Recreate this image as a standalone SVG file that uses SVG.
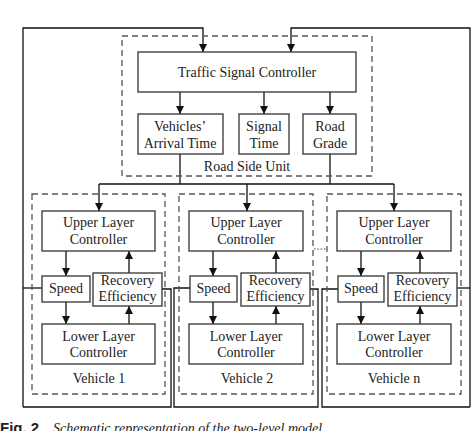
<svg xmlns="http://www.w3.org/2000/svg" width="474" height="431" viewBox="0 0 474 431" font-family="'Liberation Serif', 'Times New Roman', serif">
<defs>
<marker id="ah" viewBox="0 0 10 10" refX="10" refY="5" markerUnits="userSpaceOnUse" markerWidth="8" markerHeight="8" orient="auto">
<path d="M0,0 L10,5 L0,10 z" fill="#111"/>
</marker>
<style>
.box{fill:#fff;stroke:#333;stroke-width:1.3}
.dash{fill:none;stroke:#555;stroke-width:1.3;stroke-dasharray:6,4}
.ln{fill:none;stroke:#111;stroke-width:1.3}
.ar{fill:none;stroke:#111;stroke-width:1.3;marker-end:url(#ah)}
.t{font-family:'Liberation Serif','Times New Roman',serif;font-size:14px;fill:#222;text-anchor:middle}
.cap1{font-family:'Liberation Sans',Arial,sans-serif;font-weight:bold;font-size:15px;fill:#222}
.cap2{font-family:'Liberation Serif','Times New Roman',serif;font-style:italic;font-size:14px;fill:#222}
</style>
</defs>
<rect width="474" height="431" fill="#fff"/>

<g id="connectors">
<path class="ar" d="M23,407 V28 H203 V52"/>
<path class="ln" d="M42,288 H23"/>
<path class="ln" d="M162,289 H171 V407 H23"/>
<path class="ln" d="M190,288 H174 V407 H318 V289 H310"/>
<path class="ln" d="M338,289 H322 V407 H470"/>
<path class="ar" d="M470,407 V28 H291 V52"/>
<path class="ln" d="M457,288 H470"/>
<path class="ar" d="M180,92 V114"/>
<path class="ar" d="M264,92 V114"/>
<path class="ar" d="M330,92 V114"/>
<path class="ln" d="M180,154 V184"/>
<path class="ln" d="M330,154 V184"/>
<path class="ln" d="M99,184 H394"/>
<path class="ar" d="M99,184 V211"/>
<path class="ar" d="M247,184 V211"/>
<path class="ar" d="M394,184 V211"/>
<path class="ar" d="M66,251 V276"/>
<path class="ar" d="M66,302 V324"/>
<path class="ar" d="M129,324 V306"/>
<path class="ar" d="M129,273 V251"/>
<path class="ar" d="M213,251 V276"/>
<path class="ar" d="M213,302 V324"/>
<path class="ar" d="M276,324 V306"/>
<path class="ar" d="M276,273 V251"/>
<path class="ar" d="M361,251 V276"/>
<path class="ar" d="M361,302 V324"/>
<path class="ar" d="M420,324 V306"/>
<path class="ar" d="M420,273 V251"/>
<path d="M314,249 H327" fill="none" stroke="#444" stroke-width="1.2" stroke-dasharray="1.5,1.8"/>
</g>

<g id="rsu">
<rect class="dash" x="122" y="36" width="250" height="140"/>
<text class="t" x="247" y="171">Road Side Unit</text>
</g>
<g id="tsc">
<rect class="box" x="138" y="52" width="218" height="40"/>
<text class="t" x="247" y="77">Traffic Signal Controller</text>
</g>
<g id="arrival">
<rect class="box" x="138" y="114" width="85" height="40"/>
<text class="t" x="180" y="131">Vehicles’</text>
<text class="t" x="180" y="148">Arrival Time</text>
</g>
<g id="signal">
<rect class="box" x="239" y="114" width="50" height="40"/>
<text class="t" x="264" y="131">Signal</text>
<text class="t" x="264" y="148">Time</text>
</g>
<g id="grade">
<rect class="box" x="303" y="114" width="53" height="40"/>
<text class="t" x="330" y="131">Road</text>
<text class="t" x="330" y="148">Grade</text>
</g>

<g id="vehicle1">
<rect class="dash" x="32" y="194" width="133" height="200"/>
<text class="t" x="99" y="383">Vehicle 1</text>
</g>
<g id="upper1"><rect class="box" x="42" y="211" width="113" height="40"/><text class="t" x="98.5" y="227">Upper Layer</text><text class="t" x="98.5" y="244">Controller</text></g>
<g id="speed1"><rect class="box" x="42" y="276" width="48" height="26"/><text class="t" x="66" y="293">Speed</text></g>
<g id="recovery1"><rect class="box" x="93" y="273" width="69" height="33"/><text class="t" x="127.5" y="285">Recovery</text><text class="t" x="127.5" y="301">Efficiency</text></g>
<g id="lower1"><rect class="box" x="42" y="324" width="113" height="40"/><text class="t" x="98.5" y="341">Lower Layer</text><text class="t" x="98.5" y="357">Controller</text></g>

<g id="vehicle2">
<rect class="dash" x="179" y="194" width="134" height="200"/>
<text class="t" x="247" y="383">Vehicle 2</text>
</g>
<g id="upper2"><rect class="box" x="189" y="211" width="114" height="40"/><text class="t" x="246" y="227">Upper Layer</text><text class="t" x="246" y="244">Controller</text></g>
<g id="speed2"><rect class="box" x="190" y="276" width="47" height="26"/><text class="t" x="213.5" y="293">Speed</text></g>
<g id="recovery2"><rect class="box" x="241" y="273" width="69" height="33"/><text class="t" x="275.5" y="285">Recovery</text><text class="t" x="275.5" y="301">Efficiency</text></g>
<g id="lower2"><rect class="box" x="189" y="324" width="114" height="40"/><text class="t" x="246" y="341">Lower Layer</text><text class="t" x="246" y="357">Controller</text></g>

<g id="vehiclen">
<rect class="dash" x="327" y="194" width="134" height="200"/>
<text class="t" x="394" y="383">Vehicle n</text>
</g>
<g id="uppern"><rect class="box" x="337" y="211" width="114" height="40"/><text class="t" x="394" y="227">Upper Layer</text><text class="t" x="394" y="244">Controller</text></g>
<g id="speedn"><rect class="box" x="338" y="276" width="46" height="26"/><text class="t" x="361" y="293">Speed</text></g>
<g id="recoveryn"><rect class="box" x="388" y="273" width="69" height="33"/><text class="t" x="422.5" y="285">Recovery</text><text class="t" x="422.5" y="301">Efficiency</text></g>
<g id="lowern"><rect class="box" x="337" y="324" width="114" height="40"/><text class="t" x="394" y="341">Lower Layer</text><text class="t" x="394" y="357">Controller</text></g>

<g id="caption">
<text class="cap1" x="0" y="433">Fig. 2</text>
<text class="cap2" x="53" y="433">Schematic representation of the two-level model</text>
</g>
</svg>
